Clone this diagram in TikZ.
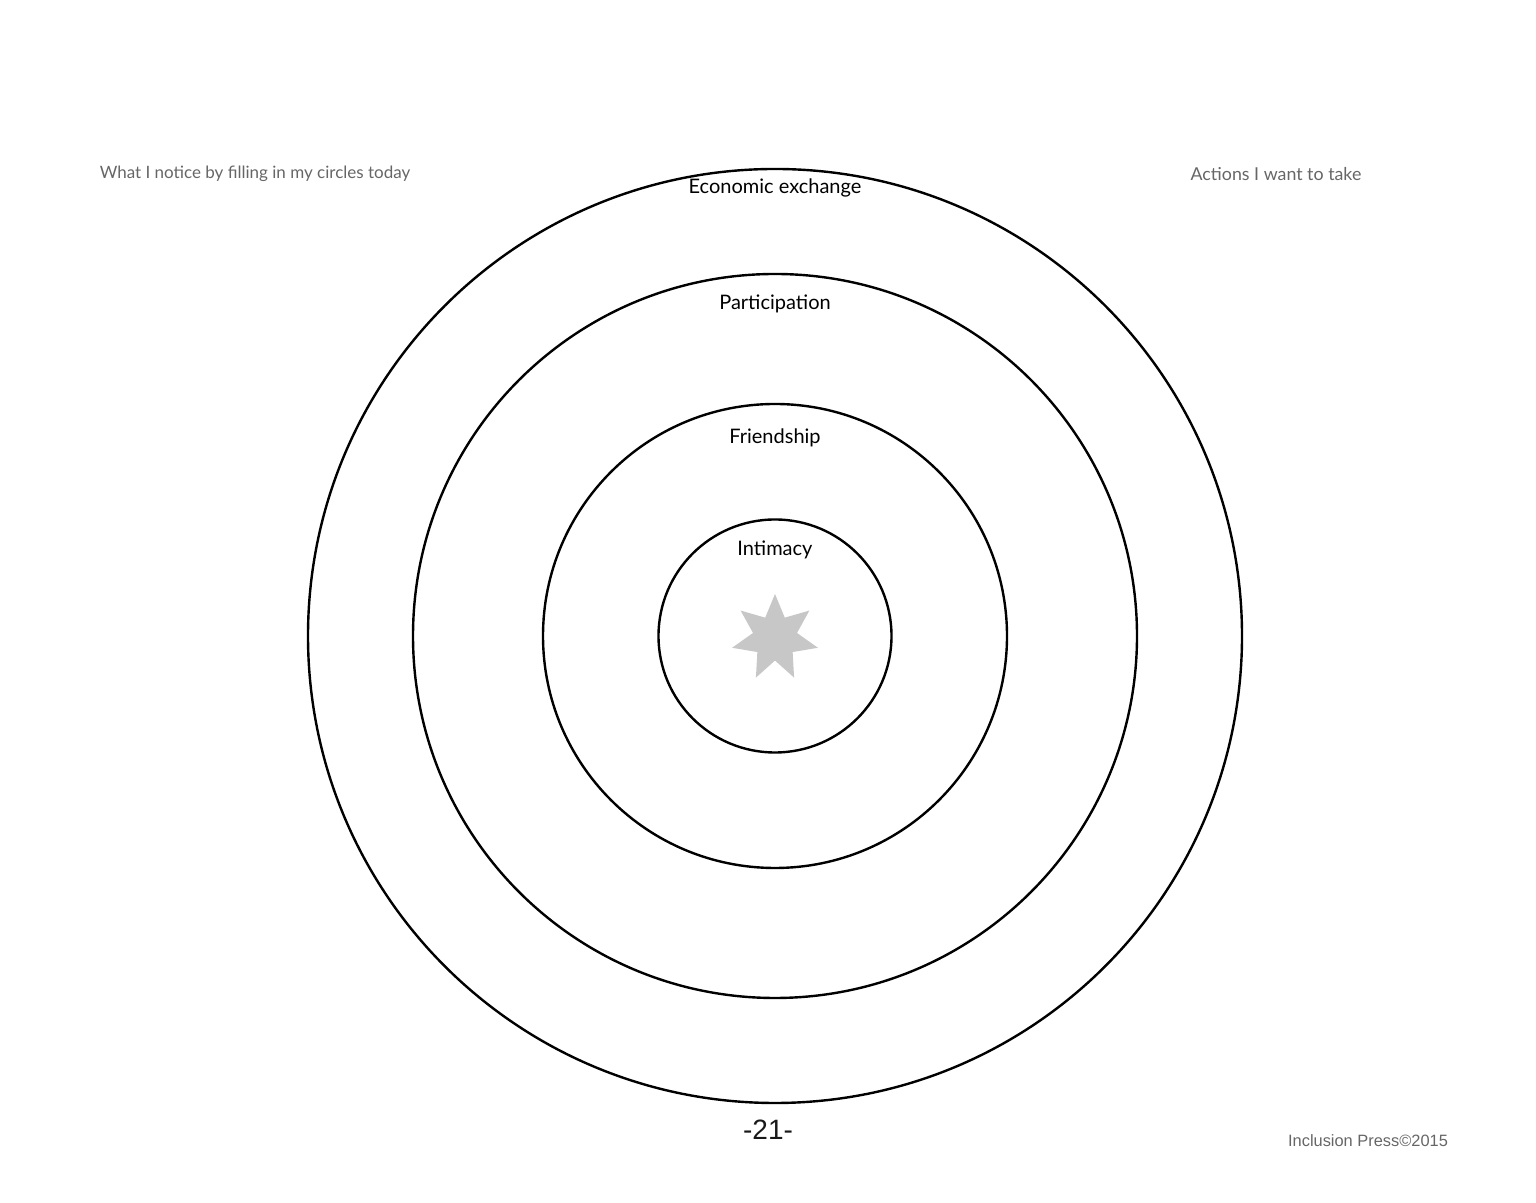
\documentclass[tikz,border=0pt]{standalone}
\usepackage{fontspec}
\setmainfont{Lato}
\newfontfamily\numfont{Liberation Sans}
\usetikzlibrary{shapes.geometric}
\tikzset{
  ring/.style={line width=1.2pt},
  ringlabel/.style={font=\fontsize{10}{12}\selectfont, text=black},
  notelabel/.style={font=\fontsize{8.5}{10}\selectfont, text=black!60},
}
\begin{document}
\begin{tikzpicture}[x=0.5pt,y=0.5pt]
        \useasboundingbox (0,0) rectangle (1536,1203);
        \coordinate (centre) at (775,567);
        % the four circles
        \draw[ring] (centre) circle[radius=467];
        \draw[ring] (centre) circle[radius=362];
        \draw[ring] (centre) circle[radius=232];
        \draw[ring] (centre) circle[radius=116.5];
        % star in the middle
        \node[star, star points=7, star point ratio=1.95, minimum size=44pt,
          inner sep=0pt, fill=black!22, draw=none] (heart) at (775,565) {};
        % circle labels
        \node[ringlabel] (economic) at (775,1015) {Economic exchange};
        \node[ringlabel] (participation) at (775,899) {Participation};
        \node[ringlabel] (friendship) at (775,765) {Friendship};
        \node[ringlabel] (intimacy) at (775,653) {Intimacy};
        % side notes
        \node[notelabel] (notice) at (255,1029) {What I notice by filling in my circles today};
        \node[notelabel, font=\fontsize{8.9}{10}\selectfont] (actions) at (1276,1029) {Actions I want to take};
        % footer
        \node[font=\numfont\fontsize{14}{15}\selectfont, text=black!90] (page) at (768,73) {-21-};
        \node[notelabel, font=\numfont\fontsize{8.2}{9}\selectfont] (press) at (1368,62) {Inclusion Press©2015};
    \end{tikzpicture}
\end{document}
